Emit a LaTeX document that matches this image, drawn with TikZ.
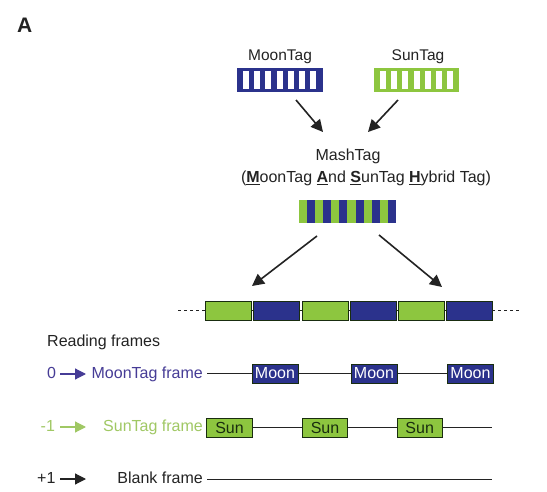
\documentclass[tikz,border=0pt]{standalone}
\usepackage{fontspec}
\setmainfont{Liberation Sans}
\usetikzlibrary{arrows.meta}
\definecolor{mblue}{RGB}{43,50,140}
\definecolor{sgreen}{RGB}{141,198,63}
\definecolor{fblue}{RGB}{70,60,150}
\definecolor{fgreen}{RGB}{160,200,100}
\definecolor{dgray}{RGB}{35,35,35}
\definecolor{sunt}{RGB}{25,45,15}
\tikzset{
  lbl/.style={anchor=base, inner sep=0pt, text=dgray},
  bigarrow/.style={line width=1.6pt, dgray, -{Triangle[length=12pt,width=12pt]}},
  framearrow/.style={line width=1.2pt, -{Triangle[length=11pt,width=11pt]}},
  seqbox/.style={draw=sunt, line width=0.8pt, minimum width=46pt, minimum height=19pt, inner sep=0pt},
  moonbox/.style={draw=sunt, line width=0.6pt, fill=mblue, text=white, minimum width=46pt, minimum height=19pt, inner sep=0pt},
  sunbox/.style={draw=sunt, line width=0.8pt, fill=sgreen, text=sunt, minimum width=45.6pt, minimum height=19pt, inner sep=0pt},
  frameline/.style={line width=0.9pt, dgray},
  seqdash/.style={line width=0.9pt, dash pattern=on 3pt off 3pt, dgray}
}
\begin{document}
\begin{tikzpicture}[x=1pt,y=-1pt, font=\fontsize{16}{19}\selectfont]
\useasboundingbox[fill=white] (0,0) rectangle (547,492);
% panel label
\node[anchor=base west, inner sep=0pt, font=\fontsize{21}{24}\selectfont\bfseries, text=dgray] (panelA) at (17,33) {A};
% tag labels
\node[lbl, font=\fontsize{15.5}{18}\selectfont] (moonlbl) at (280,61) {MoonTag};
\node[lbl, font=\fontsize{15.5}{18}\selectfont] (sunlbl) at (418,61) {SunTag};
% MoonTag bar
\node[fill=mblue, minimum width=86pt, minimum height=24pt, inner sep=0pt, anchor=north west] (moonbar) at (237,68) {};
\foreach \i in {0,...,6} \fill[white] (243+11.2*\i,71) rectangle ++(6,18);
% SunTag bar
\node[fill=sgreen, minimum width=85pt, minimum height=24pt, inner sep=0pt, anchor=north west] (sunbar) at (374,68) {};
\foreach \i in {0,...,6} \fill[white] (380+11.2*\i,71) rectangle ++(6,18);
% arrows to mash
\coordinate (a1s) at (296,100); \coordinate (a1e) at (323,132);
\coordinate (a2s) at (398,100); \coordinate (a2e) at (368,132);
\draw[bigarrow] (a1s) -- (a1e);
\draw[bigarrow] (a2s) -- (a2e);
% MashTag text
\node[lbl] (mashlbl) at (348,161) {MashTag};
\node[lbl] (mashfull) at (366,183) {(\textbf{\underline{M}}oonTag \textbf{\underline{A}}nd \textbf{\underline{S}}unTag \textbf{\underline{H}}ybrid Tag)};
% Mash bar
\node[fill=sgreen, minimum width=97pt, minimum height=23pt, inner sep=0pt, anchor=north west] (mashbar) at (299,200) {};
\foreach \i in {0,...,5} \fill[mblue] (307+16.2*\i,200) rectangle ++(8,23);
% arrows to row
\coordinate (b1s) at (317,236); \coordinate (b1e) at (252,286);
\coordinate (b2s) at (379,235); \coordinate (b2e) at (442,287);
\draw[bigarrow] (b1s) -- (b1e);
\draw[bigarrow] (b2s) -- (b2e);
% sequence row
\node[seqbox, fill=sgreen] (s1) at (228,310.5) {};
\node[seqbox, fill=mblue] (s2) at (276.5,310.5) {};
\node[seqbox, fill=sgreen] (s3) at (325,310.5) {};
\node[seqbox, fill=mblue] (s4) at (373,310.5) {};
\node[seqbox, fill=sgreen] (s5) at (421,310.5) {};
\node[seqbox, fill=mblue] (s6) at (469,310.5) {};
\coordinate (dl) at (178,310.5); \coordinate (dr) at (519,310.5);
\draw[seqdash] (dl) -- (s1);
\draw[seqdash] (s6) -- (dr);
\draw[line width=0.8pt, sunt] (s1) -- (s2) (s2) -- (s3) (s3) -- (s4) (s4) -- (s5) (s5) -- (s6);
% reading frames
\node[anchor=base west, inner sep=0pt, text=dgray] (rf) at (47,346) {Reading frames};
% row 0
\node[anchor=base west, inner sep=0pt, text=fblue] (r0n) at (47,378) {0};
\coordinate (r0as) at (60,374); \coordinate (r0ae) at (86,374);
\draw[framearrow, fblue] (r0as) -- (r0ae);
\node[anchor=base east, inner sep=0pt, text=fblue] (r0l) at (203,378) {MoonTag frame};
\coordinate (r0s) at (207,373.5); \coordinate (r0e) at (493,373.5);
\draw[frameline] (r0s) -- (r0e);
\node[moonbox] (m1) at (275,373.5) {Moon};
\node[moonbox] (m2) at (374,373.5) {Moon};
\node[moonbox] (m3) at (470.5,373.5) {Moon};
% row -1
\node[anchor=base west, inner sep=0pt, text=fgreen] (r1n) at (40.5,431) {-1};
\coordinate (r1as) at (60,427); \coordinate (r1ae) at (86,427);
\draw[framearrow, fgreen] (r1as) -- (r1ae);
\node[anchor=base east, inner sep=0pt, text=fgreen] (r1l) at (203,431) {SunTag frame};
\coordinate (r1s) at (208,427.5); \coordinate (r1e) at (492,427.5);
\draw[frameline] (r1s) -- (r1e);
\node[sunbox] (u1) at (229.5,427.5) {Sun};
\node[sunbox] (u2) at (325,427.5) {Sun};
\node[sunbox] (u3) at (419.7,427.5) {Sun};
% row +1
\node[anchor=base west, inner sep=0pt, text=dgray] (r2n) at (37,483) {+1};
\coordinate (r2as) at (60,479); \coordinate (r2ae) at (86,479);
\draw[framearrow, dgray] (r2as) -- (r2ae);
\node[anchor=base east, inner sep=0pt, text=dgray] (r2l) at (203,483) {Blank frame};
\coordinate (r2s) at (207,479); \coordinate (r2e) at (492,479);
\draw[frameline] (r2s) -- (r2e);
\end{tikzpicture}
\end{document}
